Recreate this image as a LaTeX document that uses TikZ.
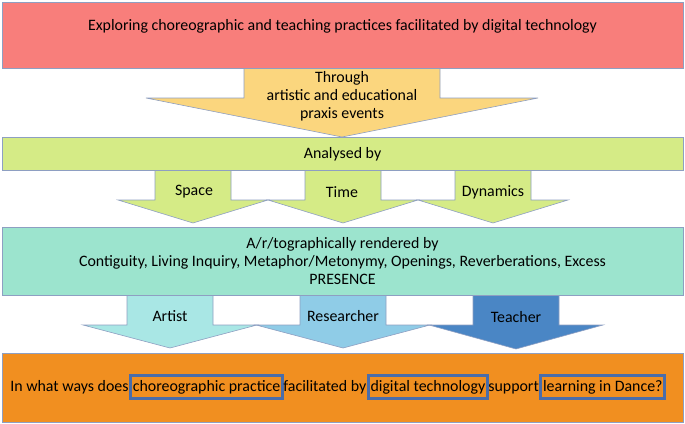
\documentclass[tikz,border=0pt]{standalone}
\usepackage{fontspec}
\setmainfont{Carlito}
\usepackage{tikz}
\usetikzlibrary{positioning,calc}
\definecolor{TopRed}{HTML}{F87E7B}
\definecolor{PraxisYellow}{HTML}{FBD67E}
\definecolor{LensGreen}{HTML}{D5EB86}
\definecolor{RenderTeal}{HTML}{9CE4CE}
\definecolor{ArtistCyan}{HTML}{A9E7E5}
\definecolor{ResearchBlue}{HTML}{8FCCE7}
\definecolor{TeachBlue}{HTML}{4A86C5}
\definecolor{QuestOrange}{HTML}{F18F20}
\definecolor{EdgeGrey}{HTML}{8E9FC2}
\definecolor{MarkBlue}{HTML}{4A6DAA}
% block arrow: centre x, top y, head y, tip y, shaft half width, head half width, fill
\newcommand{\DownArrow}[7]{%
  \fill[#7] (#1-#5,#2) -- (#1+#5,#2) -- (#1+#5,#3) -- (#1+#6,#3) -- (#1,#4)
    -- (#1-#6,#3) -- (#1-#5,#3) -- cycle;
  \draw[EdgeGrey,line width=0.6pt] (#1-#5,#2) -- (#1-#5,#3) -- (#1-#6,#3) -- (#1,#4)
    -- (#1+#6,#3) -- (#1+#5,#3) -- (#1+#5,#2);}
\newcommand{\Mark}[1]{\kern-3pt{\setlength{\fboxrule}{3pt}\setlength{\fboxsep}{0.6pt}\fcolorbox{MarkBlue}{QuestOrange}{\rule[-5.5pt]{0pt}{19.5pt}#1}}\kern-0.5pt}

\begin{document}
\begin{tikzpicture}[x=1pt,y=-1pt,font=\fontsize{15.9}{18}\selectfont]
  \useasboundingbox (0,0) rectangle (685,423);
  \tikzset{band/.style={draw=EdgeGrey,line width=0.6pt,minimum width=681pt,anchor=north}}
  % arrows first, bands over them
  \DownArrow{342}{66}{98}{137}{98}{196}{PraxisYellow}
  \DownArrow{193}{168}{200}{223}{38}{75}{LensGreen}
  \DownArrow{343}{168}{200}{223}{38}{75}{LensGreen}
  \DownArrow{493}{168}{200}{223}{38}{75}{LensGreen}
  \DownArrow{170}{293}{325}{348}{43}{87}{ArtistCyan}
  \DownArrow{343}{293}{325}{348}{43}{87}{ResearchBlue}
  \DownArrow{516}{293}{325}{349}{43}{87}{TeachBlue}
  \node[band,fill=TopRed,minimum height=66pt] (aim) at (342.5,2){};
  \node (aimtxt) at (342.5,26) {Exploring choreographic and teaching practices facilitated by digital technology};
  \node[align=center] (praxis) at (342,96) {Through\\artistic and educational\\praxis events};
  \node[band,fill=LensGreen,minimum height=33pt] (lens) at (342.5,137) {Analysed by};
  \node (space) at (194,192) {Space};
  \node (time) at (342,192) {Time};
  \node (dyn) at (493,192) {Dynamics};
  \node[band,fill=RenderTeal,minimum height=68pt,align=center] (render) at (342.5,227)
    {A/r/tographically rendered by\\Contiguity, Living Inquiry, Metaphor/Metonymy, Openings, Reverberations, Excess\\PRESENCE};
  \node (artist) at (170,316) {Artist};
  \node (research) at (343,316) {Researcher};
  \node (teacher) at (516,317) {Teacher};
  \node[band,fill=QuestOrange,minimum height=69pt] (quest) at (342.5,353) {};
  \node (questtxt) at (338,387) {In what ways does \Mark{choreographic practice} facilitated by \Mark{digital technology} support \Mark{learning in Dance?}};
\end{tikzpicture}
\end{document}
